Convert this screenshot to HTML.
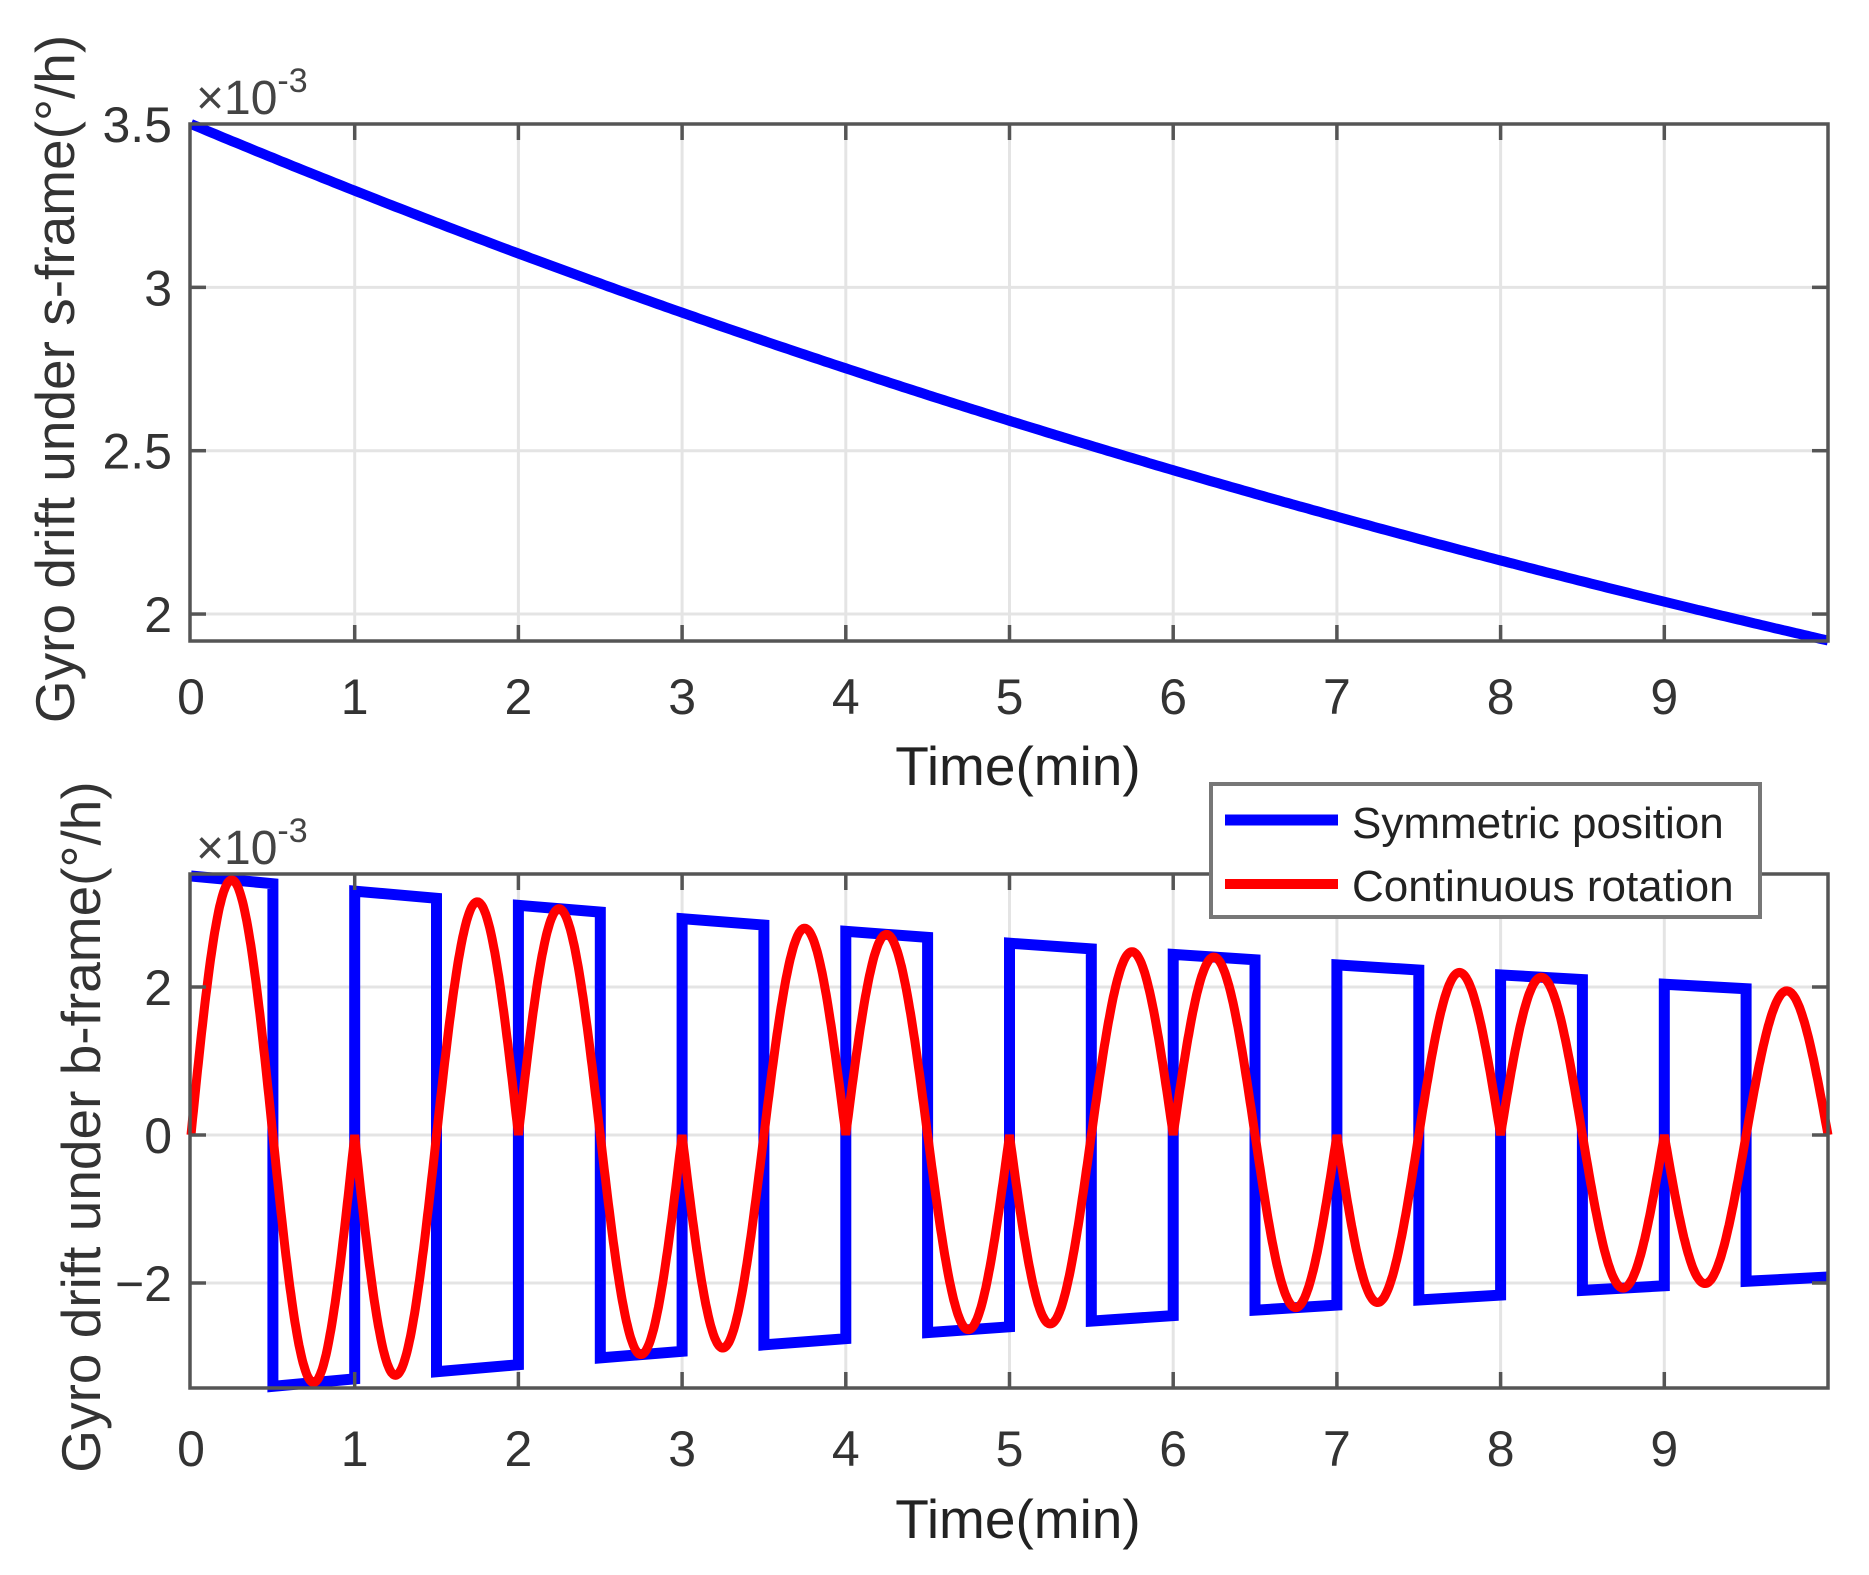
<!DOCTYPE html>
<html><head><meta charset="utf-8">
<style>
html,body{margin:0;padding:0;background:#fff;}
svg{display:block;font-family:"Liberation Sans",Arial,sans-serif;}
</style></head>
<body>
<svg id="s" width="1869" height="1575" viewBox="0 0 1869 1575" xmlns="http://www.w3.org/2000/svg">
<rect width="1869" height="1575" fill="#fff"/>
<g id="grid" stroke="#e4e4e4" stroke-width="3" fill="none"></g>
<g id="data" fill="none" stroke-linejoin="miter"></g>
<g id="axes" stroke="#555" stroke-width="3.5" fill="none"></g>
<g fill="#333" font-size="50" id="txt">
</g>
<text x="1018" y="785" font-size="55" fill="#222" text-anchor="middle">Time(min)</text>
<text x="1018" y="1538" font-size="55" fill="#222" text-anchor="middle">Time(min)</text>
<text transform="translate(74,379) rotate(-90)" font-size="55" fill="#333" text-anchor="middle">Gyro drift under s-frame(°/h)</text>
<text transform="translate(100,1127) rotate(-90)" font-size="55" fill="#333" text-anchor="middle">Gyro drift under b-frame(°/h)</text>
<text x="196" y="114" font-size="48" fill="#444">×10<tspan font-size="34" dy="-22">-3</tspan></text>
<text x="196" y="864" font-size="48" fill="#444">×10<tspan font-size="34" dy="-22">-3</tspan></text>
<rect x="1211" y="784" width="549" height="133" fill="#fff" stroke="#777" stroke-width="4"/>
<line x1="1225" y1="820" x2="1338" y2="820" stroke="#0000ff" stroke-width="11"/>
<line x1="1225" y1="884" x2="1338" y2="884" stroke="#ff0000" stroke-width="10"/>
<text x="1352" y="838" font-size="44" fill="#222">Symmetric position</text>
<text x="1352" y="901" font-size="44" fill="#222">Continuous rotation</text>
</svg>
<script>
const NS="http://www.w3.org/2000/svg";
const X=t=>191+163.7*t;
const Yt=v=>124+(3.5-v)*326.7;
const Yb=v=>1135-74*v;
const L=190,R=1828,T1=124,B1=641,T2=874,B2=1388;
function el(p,tag,a,txt){const e=document.createElementNS(NS,tag);for(const k in a)e.setAttribute(k,a[k]);if(txt!==undefined)e.textContent=txt;document.getElementById(p).appendChild(e);return e;}
for(let i=1;i<10;i++){el('grid','line',{x1:X(i),y1:T1,x2:X(i),y2:B1});el('grid','line',{x1:X(i),y1:T2,x2:X(i),y2:B2});}
[2,2.5,3].forEach(v=>el('grid','line',{x1:L,y1:Yt(v),x2:R,y2:Yt(v)}));
[-2,0,2].forEach(v=>el('grid','line',{x1:L,y1:Yb(v),x2:R,y2:Yb(v)}));
[[T1,B1],[T2,B2]].forEach(([t,b])=>{
 el('axes','rect',{x:L,y:t,width:R-L,height:b-t});
 for(let i=1;i<10;i++){el('axes','line',{x1:X(i),y1:b,x2:X(i),y2:b-16});el('axes','line',{x1:X(i),y1:t,x2:X(i),y2:t+16});}
});
[2,2.5,3].forEach(v=>{el('axes','line',{x1:L,y1:Yt(v),x2:L+16,y2:Yt(v)});el('axes','line',{x1:R,y1:Yt(v),x2:R-16,y2:Yt(v)});});
[-2,0,2].forEach(v=>{el('axes','line',{x1:L,y1:Yb(v),x2:L+16,y2:Yb(v)});el('axes','line',{x1:R,y1:Yb(v),x2:R-16,y2:Yb(v)});});
for(let i=0;i<10;i++){el('txt','text',{x:X(i),y:714,'text-anchor':'middle'},String(i));el('txt','text',{x:X(i),y:1466,'text-anchor':'middle'},String(i));}
[['3.5',3.5],['3',3],['2.5',2.5],['2',2]].forEach(([s,v])=>el('txt','text',{x:172,y:Yt(v)+18,'text-anchor':'end'},s));
[['2',2],['0',0],['\u22122',-2]].forEach(([s,v])=>el('txt','text',{x:172,y:Yb(v)+18,'text-anchor':'end'},s));
const f=t=>3.5*Math.exp(-0.0601*t);
let d='';for(let i=0;i<=400;i++){const t=i/40;d+=(i?'L':'M')+X(t).toFixed(1)+','+Yt(f(t)).toFixed(1);}
el('data','path',{d:d,stroke:'#0000ff','stroke-width':10});
d='';for(let k=0;k<20;k++){const a=k*0.5,b=a+0.5,s=(k%2==0)?1:-1;
 d+=(k?'L':'M')+X(a).toFixed(1)+','+Yb(s*f(a)).toFixed(1)+'L'+X(b).toFixed(1)+','+Yb(s*f(b)).toFixed(1);}
el('data','path',{d:d,stroke:'#0000ff','stroke-width':11});
d='';for(let i=0;i<=2000;i++){const t=i/200;const n=Math.min(Math.floor(t),9);const s=(n%2==0)?1:-1;
 d+=(i?'L':'M')+X(t).toFixed(1)+','+Yb(s*f(t)*Math.sin(2*Math.PI*t)).toFixed(1);}
el('data','path',{d:d,stroke:'#ff0000','stroke-width':9});
</script>
</body></html>
